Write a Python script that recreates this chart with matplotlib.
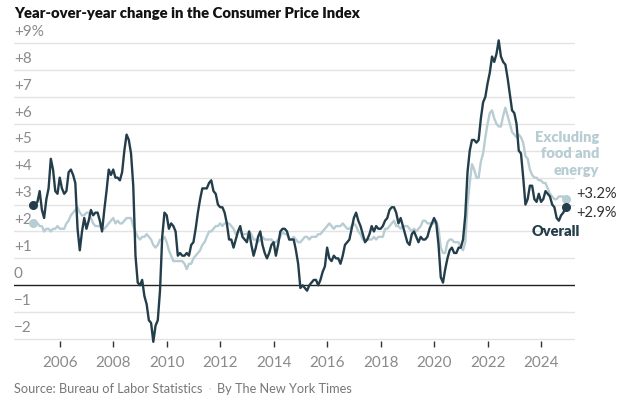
import numpy as np
import matplotlib
matplotlib.use("Agg")
import matplotlib.pyplot as plt
import matplotlib.transforms as mtransforms

# Monthly year-over-year change, Jan 2005 - Dec 2024
overall = [
    3.0, 3.0, 3.1, 3.5, 2.8, 2.5, 3.2, 3.6, 4.7, 4.3, 3.5, 3.4,   # 2005
    4.0, 3.6, 3.4, 3.5, 4.2, 4.3, 4.1, 3.8, 2.1, 1.3, 2.0, 2.5,   # 2006
    2.1, 2.4, 2.8, 2.6, 2.7, 2.7, 2.4, 2.0, 2.8, 3.5, 4.3, 4.1,   # 2007
    4.3, 4.0, 4.0, 3.9, 4.2, 5.0, 5.6, 5.4, 4.9, 3.7, 1.1, 0.1,   # 2008
    0.0, 0.2, -0.4, -0.7, -1.3, -1.4, -2.1, -1.5, -1.3, -0.2, 1.8, 2.7,  # 2009
    2.6, 2.1, 2.3, 2.2, 2.0, 1.1, 1.2, 1.1, 1.1, 1.2, 1.1, 1.5,   # 2010
    1.6, 2.1, 2.7, 3.2, 3.6, 3.6, 3.6, 3.8, 3.9, 3.5, 3.4, 3.0,   # 2011
    2.9, 2.9, 2.7, 2.3, 1.7, 1.7, 1.4, 1.7, 2.0, 2.2, 1.8, 1.7,   # 2012
    1.6, 2.0, 1.5, 1.1, 1.4, 1.8, 2.0, 1.5, 1.2, 1.0, 1.2, 1.5,   # 2013
    1.6, 1.1, 1.5, 2.0, 2.1, 2.1, 2.0, 1.7, 1.7, 1.7, 1.3, 0.8,   # 2014
    -0.1, 0.0, -0.1, -0.2, 0.0, 0.1, 0.2, 0.2, 0.0, 0.2, 0.5, 0.7,  # 2015
    1.4, 1.0, 0.9, 1.1, 1.0, 1.0, 0.8, 1.1, 1.5, 1.6, 1.7, 2.1,   # 2016
    2.5, 2.7, 2.4, 2.2, 1.9, 1.6, 1.7, 1.9, 2.2, 2.0, 2.2, 2.1,   # 2017
    2.1, 2.2, 2.4, 2.5, 2.8, 2.9, 2.9, 2.7, 2.3, 2.5, 2.2, 1.9,   # 2018
    1.6, 1.5, 1.9, 2.0, 1.8, 1.6, 1.8, 1.7, 1.7, 1.8, 2.1, 2.3,   # 2019
    2.5, 2.3, 1.5, 0.3, 0.1, 0.6, 1.0, 1.3, 1.4, 1.2, 1.2, 1.4,   # 2020
    1.4, 1.7, 2.6, 4.2, 5.0, 5.4, 5.4, 5.3, 5.4, 6.2, 6.8, 7.0,   # 2021
    7.5, 7.9, 8.5, 8.3, 8.6, 9.1, 8.5, 8.3, 8.2, 7.7, 7.1, 6.5,   # 2022
    6.4, 6.0, 5.0, 4.9, 4.0, 3.0, 3.2, 3.7, 3.7, 3.2, 3.1, 3.4,   # 2023
    3.1, 3.2, 3.5, 3.4, 3.3, 3.0, 2.9, 2.5, 2.4, 2.6, 2.7, 2.9,   # 2024
]

# excluding food and energy
core = [
    2.3, 2.4, 2.3, 2.2, 2.2, 2.0, 2.1, 2.1, 2.0, 2.1, 2.1, 2.2,
    2.1, 2.1, 2.1, 2.3, 2.4, 2.6, 2.7, 2.8, 2.9, 2.7, 2.6, 2.6,
    2.7, 2.7, 2.5, 2.3, 2.2, 2.2, 2.2, 2.1, 2.1, 2.2, 2.3, 2.4,
    2.5, 2.3, 2.4, 2.3, 2.3, 2.4, 2.5, 2.5, 2.5, 2.2, 2.0, 1.8,
    1.7, 1.8, 1.8, 1.9, 1.8, 1.7, 1.5, 1.4, 1.5, 1.7, 1.7, 1.8,
    1.6, 1.3, 1.1, 0.9, 0.9, 0.9, 0.9, 0.9, 0.8, 0.6, 0.8, 0.8,
    1.0, 1.1, 1.2, 1.3, 1.5, 1.6, 1.8, 2.0, 2.0, 2.1, 2.2, 2.2,
    2.3, 2.2, 2.3, 2.3, 2.3, 2.2, 2.1, 1.9, 2.0, 2.0, 1.9, 1.9,
    1.9, 2.0, 1.9, 1.7, 1.7, 1.6, 1.7, 1.8, 1.7, 1.7, 1.7, 1.7,
    1.6, 1.6, 1.7, 1.8, 2.0, 1.9, 1.9, 1.7, 1.7, 1.8, 1.7, 1.6,
    1.6, 1.7, 1.8, 1.8, 1.7, 1.8, 1.8, 1.8, 1.9, 1.9, 2.0, 2.1,
    2.2, 2.3, 2.2, 2.1, 2.2, 2.2, 2.2, 2.3, 2.2, 2.1, 2.1, 2.2,
    2.3, 2.2, 2.0, 1.9, 1.7, 1.7, 1.7, 1.7, 1.7, 1.8, 1.7, 1.8,
    1.8, 1.8, 2.1, 2.1, 2.2, 2.3, 2.4, 2.2, 2.2, 2.1, 2.2, 2.2,
    2.2, 2.1, 2.0, 2.1, 2.0, 2.1, 2.2, 2.4, 2.4, 2.3, 2.3, 2.3,
    2.3, 2.4, 2.1, 1.4, 1.2, 1.2, 1.6, 1.7, 1.7, 1.6, 1.6, 1.6,
    1.4, 1.3, 1.6, 3.0, 3.8, 4.5, 4.3, 4.0, 4.0, 4.6, 4.9, 5.5,
    6.0, 6.4, 6.5, 6.2, 6.0, 5.9, 5.9, 6.3, 6.6, 6.3, 6.0, 5.7,
    5.6, 5.5, 5.6, 5.5, 5.3, 4.8, 4.7, 4.3, 4.1, 4.0, 4.0, 3.9,
    3.9, 3.8, 3.8, 3.6, 3.4, 3.3, 3.2, 3.2, 3.3, 3.3, 3.3, 3.2,
]

start_year = 2005
y_ticks = [-2, -1, 0, 1, 2, 3, 4, 5, 6, 7, 8, 9]
y_labels = ["\u22122", "\u22121", "0", "+1", "+2", "+3", "+4", "+5", "+6", "+7", "+8", "+9%"]
x_ticks = [2006, 2008, 2010, 2012, 2014, 2016, 2018, 2020, 2022, 2024]

DARK = "#233e4a"
LIGHT = "#b7cdd3"
GRAY = "#8a8a8a"
FONT = ['Lato', 'DejaVu Sans']

plt.rcParams['font.family'] = FONT

W, H = 624, 405
fig = plt.figure(figsize=(W / 100, H / 100), dpi=100)

# axes placed in pixel coordinates
left, right, top, bottom = 14, 575, 42, 341
ax = fig.add_axes([left / W, 1 - bottom / H, (right - left) / W, (bottom - top) / H])

months = np.arange(len(overall))
x = start_year + months / 12.0

ax.set_xlim(2004.29, 2025.27)
ax.set_ylim(-2.07, 9.04)

for v in y_ticks:
    if v == 0:
        ax.axhline(v, color="#222222", lw=1.0, zorder=1)
    else:
        ax.axhline(v, color="#e3e3e3", lw=1.0, zorder=1)

trans = mtransforms.blended_transform_factory(ax.transAxes, ax.transData)
for v, lab in zip(y_ticks, y_labels):
    ax.text(0, v + 0.16, lab, transform=trans, ha="left", va="bottom",
            fontsize=11, color=GRAY)

ax.plot(x, core, color=LIGHT, lw=1.7, zorder=3, clip_on=False, solid_joinstyle="round")
ax.plot(x, overall, color=DARK, lw=1.7, zorder=4, clip_on=False, solid_joinstyle="round")

for series, c, z in [(core, LIGHT, 5), (overall, DARK, 6)]:
    ax.plot([x[0], x[-1]], [series[0], series[-1]], "o", color=c, ms=5.5,
            zorder=z, clip_on=False)

ax.set_xticks(x_ticks)
ax.set_xticklabels([str(t) for t in x_ticks], fontsize=11, color=GRAY)
ax.tick_params(axis="x", length=4, width=1, color="#333333", pad=7, direction="out")
ax.set_yticks([])
for s in ax.spines.values():
    s.set_visible(False)

# annotations
ax.text(2026.17, 5.75, "Excluding\nfood and\nenergy", ha="right", va="top",
        fontsize=10.5, fontweight="heavy", color=LIGHT, linespacing=1.35,
        clip_on=False)
ax.text(2025.3, 3.41, "+3.2%", ha="left", va="center",
        fontsize=10.5, color="#333333", clip_on=False)
ax.text(2025.3, 2.70, "+2.9%", ha="left", va="center",
        fontsize=10.5, color="#333333", clip_on=False)
ax.text(2024.57, 2.0, "Overall", ha="center", va="center", fontsize=10.5,
        fontweight="heavy", color=DARK)

fig.text(14 / W, 1 - 14 / H, "Year-over-year change in the Consumer Price Index",
         ha="left", va="center", fontsize=10.7, fontweight="heavy", color="#121212")
fig.text(14 / W, 1 - 389 / H, "Source: Bureau of Labor Statistics",
         ha="left", va="center", fontsize=9.2, color="#777777")
fig.text(210 / W, 1 - 389 / H, "\u25aa", ha="center", va="center",
         fontsize=4, color="#dddddd")
fig.text(217 / W, 1 - 389 / H, "By The New York Times",
         ha="left", va="center", fontsize=9.2, color="#777777")

fig.savefig("out.png", dpi=100)
